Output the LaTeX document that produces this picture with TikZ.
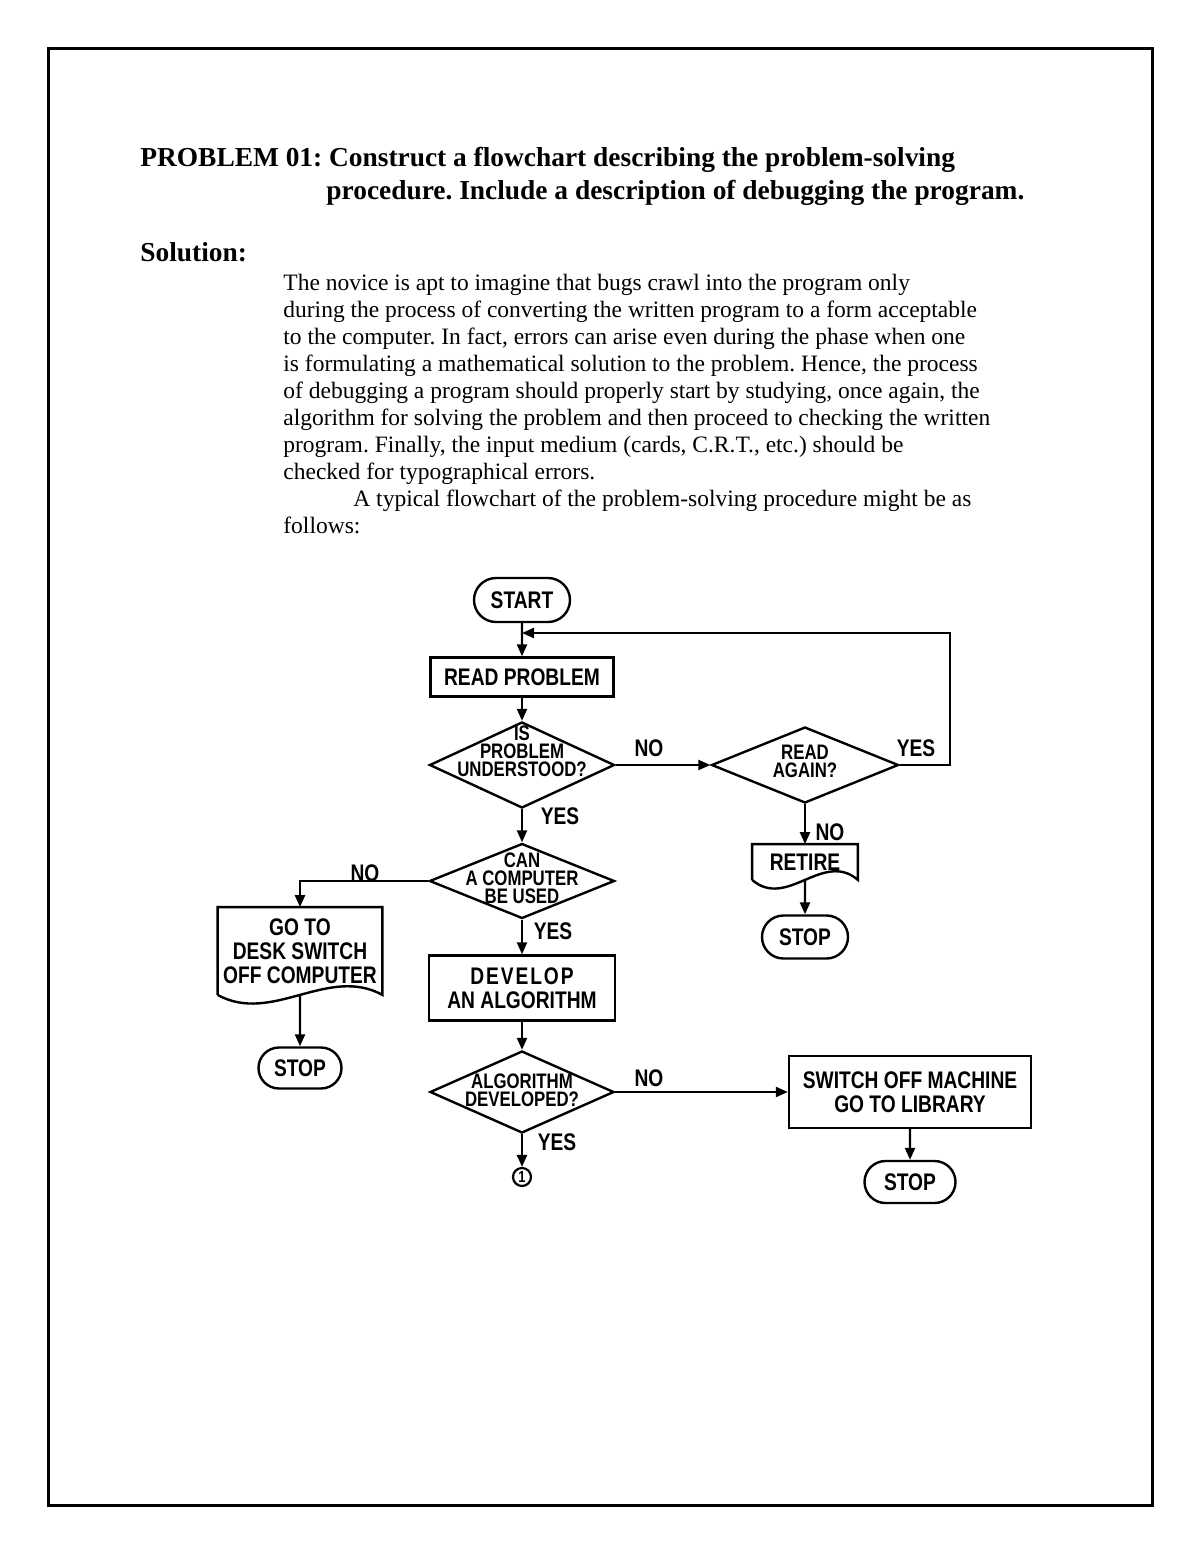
\documentclass[tikz,border=0pt]{standalone}
\usepackage{fontspec}
\setmainfont{Liberation Serif}
\newfontfamily\bodyfont{Liberation Serif}
\newfontfamily\fcfont[FakeStretch=0.8]{Liberation Sans}
\usetikzlibrary{shapes.geometric,shapes.misc,arrows.meta,calc}
\frenchspacing
\tikzset{
  fcbase/.style={font=\fcfont\bfseries\fontsize{12}{12}\selectfont},
  term/.style={fcbase, draw, rounded rectangle, line width=1.2pt, inner sep=0pt},
  proc/.style={fcbase, draw, rectangle, line width=1.2pt, inner sep=0pt, align=center},
  docbox/.style={fcbase, rectangle, inner sep=0pt, align=center},
  dia/.style={draw, diamond, line width=1.2pt, inner sep=0pt},
  dtxt/.style={font=\fcfont\bfseries\fontsize{10.5}{9}\selectfont, align=center, inner sep=0pt},
  lab/.style={fcbase, inner sep=0pt},
  arr/.style={line width=1.2pt, -{Triangle[length=6pt,width=5pt]}},
  flow/.style={line width=1.2pt},
  conn/.style={draw, circle, line width=1.1pt, inner sep=0pt, minimum size=9pt, font=\fcfont\bfseries\fontsize{8}{8}\selectfont},
  titlet/.style={font=\bfseries\fontsize{13.7}{13.7}\selectfont, inner sep=0pt, anchor=base west},
  body/.style={font=\bodyfont\fontsize{11.75}{13}\selectfont, inner sep=0pt, anchor=base west}
}
\begin{document}
\begin{tikzpicture}[x=0.5pt,y=-0.5pt]
\useasboundingbox (0,0) rectangle (1200,1553);
\draw[line width=1.5pt] (48,48) rectangle (1152,1505);

% ---- text ----
\node[titlet] (t1) at (140,166) {PROBLEM 01: Construct a flowchart describing the problem-solving};
\node[titlet] (t2) at (326,199) {procedure. Include a description of debugging the program.};
\node[titlet] (sol) at (140,261) {Solution:};
\node[body] (b1) at (283,290) {The novice is apt to imagine that bugs crawl into the program only};
\node[body] (b2) at (283,317) {during the process of converting the written program to a form acceptable};
\node[body] (b3) at (283,344) {to the computer. In fact, errors can arise even during the phase when one};
\node[body] (b4) at (283,371) {is formulating a mathematical solution to the problem. Hence, the process};
\node[body] (b5) at (283,398) {of debugging a program should properly start by studying, once again, the};
\node[body] (b6) at (283,425) {algorithm for solving the problem and then proceed to checking the written};
\node[body] (b7) at (283,452) {program. Finally, the input medium (cards, C.R.T., etc.) should be};
\node[body] (b8) at (283,479) {checked for typographical errors.};
\node[body] (b9) at (353,506) {A typical flowchart of the problem-solving procedure might be as};
\node[body] (b10) at (283,533) {follows:};

% ---- flowchart ----
\node[term, minimum width=48pt, minimum height=22pt] (start) at (522,600) {START};
\node[proc, minimum width=91.5pt, minimum height=19.5pt] (read) at (522,677) {READ PROBLEM};
\node[dia, minimum width=92.5pt, minimum height=43pt] (d1) at (522,765) {};
\node[dtxt] (d1t) at (522,751) {IS\\PROBLEM\\UNDERSTOOD?};
\node[dia, minimum width=93.5pt, minimum height=38pt] (d2) at (805,765) {};
\node[dtxt] (d2t) at (805,761) {READ\\AGAIN?};
\node[docbox, minimum width=52.5pt, minimum height=17.5pt] (retire) at (805,862) {RETIRE};
\node[term, minimum width=43pt, minimum height=21.5pt] (stop2) at (805,937) {STOP};
\node[dia, minimum width=92.5pt, minimum height=37.5pt] (d3) at (522,881) {};
\node[dtxt] (d3t) at (522,878) {CAN\\A COMPUTER\\BE USED};
\node[docbox, minimum width=82pt, minimum height=43.5pt] (goto) at (300,951) {GO TO\\DESK SWITCH\\OFF COMPUTER};
\node[term, minimum width=41.5pt, minimum height=20.5pt] (stop1) at (300,1068) {STOP};
\node[proc, minimum width=93pt, minimum height=32.5pt] (dev) at (522,988) {{\addfontfeature{LetterSpace=8}DEVELOP}\\AN ALGORITHM};
\node[dia, minimum width=92pt, minimum height=41pt] (d4) at (522,1092) {};
\node[dtxt] (d4t) at (522,1090) {ALGORITHM\\DEVELOPED?};
\node[conn] (c1) at (522,1177) {1};
\node[proc, minimum width=121pt, minimum height=36pt] (sw) at (910,1092) {SWITCH OFF MACHINE\\GO TO LIBRARY};
\node[term, minimum width=45.5pt, minimum height=21pt] (stop3) at (910,1182) {STOP};

% document outlines
\foreach \n in {retire,goto}{
  \draw[flow] (\n.south west) -- (\n.north west) -- (\n.north east) -- (\n.south east)
    .. controls ($(\n.south west)!0.67!(\n.south east)+(0,-30)$) and ($(\n.south west)!0.33!(\n.south east)+(0,30)$) .. (\n.south west);
}

% connectors
\coordinate (lp) at (950,633);
\coordinate (jn) at (start.south |- lp);
\draw[arr] (start) -- (read);
\draw[arr] (d2.east) -| (lp) -- (jn);
\draw[arr] (read) -- (d1);
\draw[arr] (d1) -- (d2);
\draw[arr] (d2) -- (retire);
\draw[arr] (retire.south) -- (stop2);
\draw[arr] (d1) -- (d3);
\draw[arr] (d3.west) -| (goto.north);
\draw[arr] (goto.south) -- (stop1);
\draw[arr] (d3) -- (dev);
\draw[arr] (dev) -- (d4);
\draw[arr] (d4) -- (c1);
\draw[arr] (d4) -- (sw);
\draw[arr] (sw) -- (stop3);

% labels
\node[lab] (l1) at (649,748) {NO};
\node[lab] (l2) at (916,748) {YES};
\node[lab] (l3) at (830,832) {NO};
\node[lab] (l4) at (560,816) {YES};
\node[lab] (l5) at (365,873) {NO};
\node[lab] (l6) at (553,931) {YES};
\node[lab] (l7) at (557,1142) {YES};
\node[lab] (l8) at (649,1078) {NO};
\end{tikzpicture}
\end{document}
